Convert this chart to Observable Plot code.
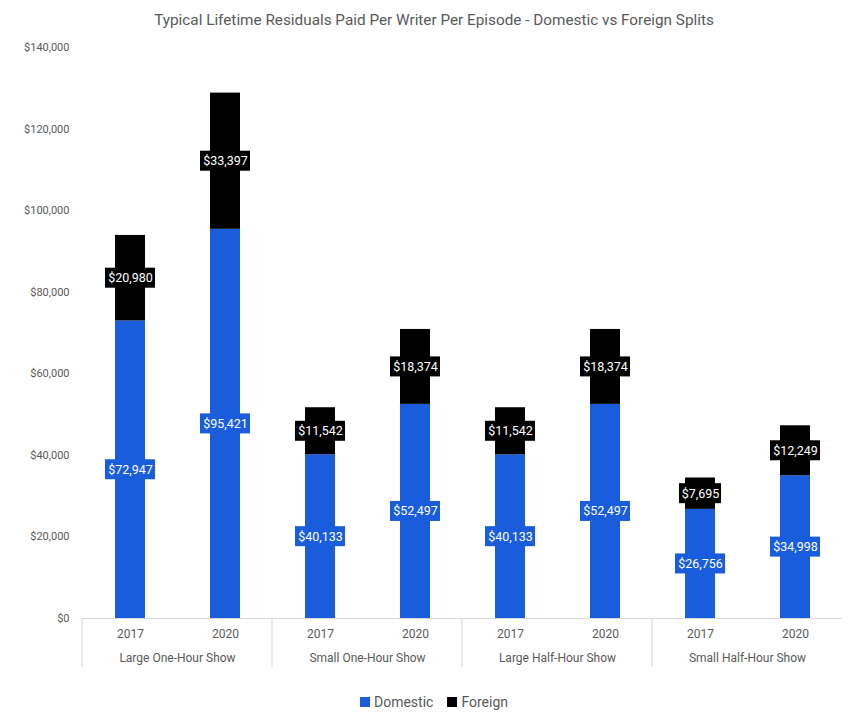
<!DOCTYPE html>
<html><head><meta charset="utf-8">
<script src="https://cdn.jsdelivr.net/npm/d3@7"></script>
<script src="https://cdn.jsdelivr.net/npm/@observablehq/plot@0.6"></script>
<style>
body{margin:0;background:#fff;font-family:Roboto,"Liberation Sans",sans-serif;color:#595959;}
#title{height:38px;line-height:40px;text-align:center;font-size:15.3px;color:#595959;}
#chart svg{display:block;}
#legend{display:flex;justify-content:center;align-items:center;height:40px;font-size:14px;color:#595959;}
#legend .item{display:flex;align-items:center;margin:0 7px;}
#legend .sw{width:10px;height:10px;margin-right:4px;}
</style></head><body>
<div id="title">Typical Lifetime Residuals Paid Per Writer Per Episode - Domestic vs Foreign Splits</div>
<div id="chart"></div>
<div id="legend"></div>
<script>
const groups = ["Large One-Hour Show","Small One-Hour Show","Large Half-Hour Show","Small Half-Hour Show"];
const years = ["2017","2020"];
const series = ["Domestic","Foreign"];
const colors = ["#1a5ddc","#000000"];
const domestic = [72947,95421,40133,52497,40133,52497,26756,34998];
const foreign  = [20980,33397,11542,18374,11542,18374,7695,12249];
const yTicks = [0,20000,40000,60000,80000,100000,120000,140000];

const fmt = d3.format("$,");
const rows = [];
groups.forEach((g,gi) => years.forEach((yr,yi) => {
  const k = gi*2 + yi;
  rows.push({group:g, year:yr, series:"Domestic", value:domestic[k], base:0});
  rows.push({group:g, year:yr, series:"Foreign", value:foreign[k], base:domestic[k]});
}));
rows.forEach(r => { r.top = r.base + r.value; r.mid = r.base + r.value/2; r.label = fmt(r.value); });
const long = rows.filter(r => r.label.length >= 7);
const short = rows.filter(r => r.label.length < 7);

const font = 'Roboto,"Liberation Sans",sans-serif';
const boxOpts = (extra) => ({fx:"group", x:"year", y1:"mid", y2:"mid", fill:"series", insetTop:-10, insetBottom:-10, ...extra});

const chart = Plot.plot({
  width: 868, height: 644,
  marginTop: 9, marginBottom: 64, marginLeft: 80, marginRight: 25,
  style: {fontFamily: font, color: "#595959", background: "#fff"},
  fx: {domain: groups, paddingInner: 0, paddingOuter: 0, label: null},
  x: {domain: years, paddingInner: 0.686, paddingOuter: 0.343, label: null},
  y: {domain: [0, 140000], label: null},
  color: {domain: series, range: colors},
  marks: [
    Plot.barY(rows, {fx:"group", x:"year", y1:"base", y2:"top", fill:"series"}),
    Plot.ruleY([0], {stroke:"#d9d9d9", strokeWidth:1}),
    Plot.barY(long, boxOpts({insetLeft:-10, insetRight:-10})),
    Plot.barY(short, boxOpts({insetLeft:-6, insetRight:-6})),
    Plot.text(rows, {fx:"group", x:"year", y:"mid", text:"label", fill:"white", fontSize:12.5}),
    Plot.axisY({ticks: yTicks, tickFormat: fmt, tickSize: 0, tickPadding: 13, fontSize: 11, label: null}),
    Plot.axisX({tickSize: 0, tickPadding: 10.5, fontSize: 12, label: null}),
    Plot.axisFx({anchor: "bottom", tickSize: 0, tickPadding: 35, fontSize: 12, label: null})
  ]
});
document.getElementById("chart").appendChild(chart);

// group separators drawn from the library's own scales
const fxS = chart.scale("fx"), yS = chart.scale("y");
const y0 = yS.apply(0);
const svg = d3.select(chart);
groups.forEach(g => {
  const xx = fxS.apply(g);
  svg.append("line").attr("x1", xx).attr("x2", xx).attr("y1", y0).attr("y2", y0 + 49)
    .attr("stroke", "#d9d9d9").attr("stroke-width", 1);
});

const lg = document.getElementById("legend");
series.forEach((s,i) => {
  const it = document.createElement("div"); it.className = "item";
  const sw = document.createElement("div"); sw.className = "sw"; sw.style.background = colors[i];
  const tx = document.createElement("span"); tx.textContent = s;
  it.appendChild(sw); it.appendChild(tx); lg.appendChild(it);
});
</script>
</body></html>
